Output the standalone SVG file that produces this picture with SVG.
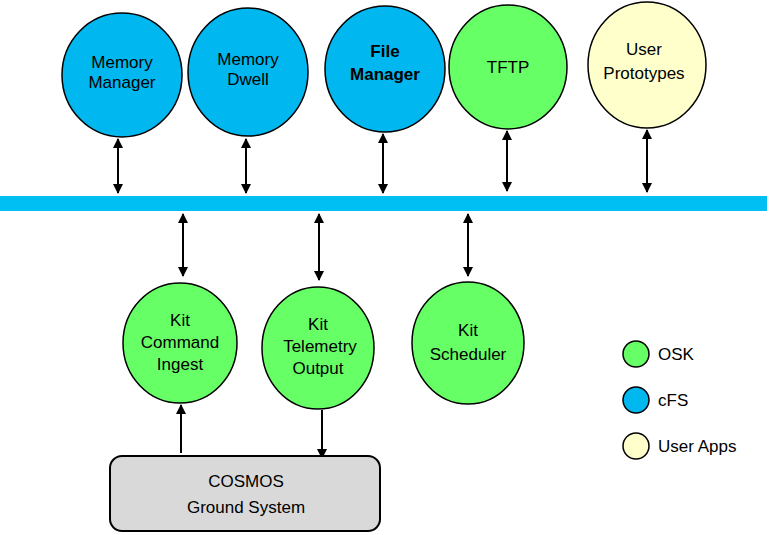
<svg xmlns="http://www.w3.org/2000/svg" width="774" height="535" viewBox="0 0 774 535">
<defs>
<marker id="ah" viewBox="0 0 10 10" refX="9" refY="5" markerWidth="5" markerHeight="5" orient="auto-start-reverse"><path d="M0,0 L10,5 L0,10 z" fill="#000"/></marker>
<style>
.c{stroke:#000;stroke-width:1.5}
.b{fill:#00B7EF}.g{fill:#66FF66}.y{fill:#FFFFCC}
text{font-family:"Liberation Sans",Arial,sans-serif;font-size:17px;text-anchor:middle;fill:#000}
.l{text-anchor:start}
.a{stroke:#000;stroke-width:2;marker-end:url(#ah)}
.d{stroke:#000;stroke-width:2;marker-start:url(#ah);marker-end:url(#ah)}
</style>
</defs>
<rect x="0" y="196" width="767" height="15" fill="#00BFF3"/>
<g id="connectors">
<line class="d" x1="118" y1="139" x2="118" y2="193"/>
<line class="d" x1="246" y1="139" x2="246" y2="193"/>
<line class="d" x1="383" y1="134" x2="383" y2="193"/>
<line class="d" x1="507" y1="131" x2="507" y2="191"/>
<line class="d" x1="647" y1="130" x2="647" y2="192"/>
<line class="d" x1="183" y1="214" x2="183" y2="276"/>
<line class="d" x1="319" y1="214" x2="319" y2="280"/>
<line class="d" x1="468" y1="214" x2="468" y2="276"/>
<line class="a" x1="181" y1="453" x2="181" y2="405"/>
<line class="a" x1="322" y1="410" x2="322" y2="458"/>
</g>
<g id="mm"><ellipse class="c b" cx="122" cy="75" rx="60" ry="62"/><text x="122" y="68">Memory</text><text x="122" y="88">Manager</text></g>
<g id="md"><ellipse class="c b" cx="248" cy="72" rx="60" ry="64"/><text x="248" y="65">Memory</text><text x="248" y="85">Dwell</text></g>
<g id="fm"><ellipse class="c b" cx="385" cy="69" rx="60" ry="63"/><text x="385" y="57" font-weight="bold">File</text><text x="385" y="80" font-weight="bold">Manager</text></g>
<g id="tftp"><ellipse class="c g" cx="508" cy="67" rx="59" ry="62"/><text x="508" y="73">TFTP</text></g>
<g id="up"><ellipse class="c y" cx="647" cy="65" rx="59" ry="63"/><text x="644" y="55">User</text><text x="644" y="79">Prototypes</text></g>
<g id="kci"><ellipse class="c g" cx="180" cy="343" rx="57" ry="60"/><text x="180" y="326">Kit</text><text x="180" y="348">Command</text><text x="180" y="370">Ingest</text></g>
<g id="kto"><ellipse class="c g" cx="318" cy="348" rx="56" ry="61"/><text x="318" y="330">Kit</text><text x="320" y="352">Telemetry</text><text x="318" y="374">Output</text></g>
<g id="ks"><ellipse class="c g" cx="468" cy="343" rx="56" ry="61"/><text x="468" y="336">Kit</text><text x="468" y="360">Scheduler</text></g>
<g id="cosmos"><rect x="110" y="456" width="270" height="75" rx="12" fill="#D9D9D9" stroke="#000" stroke-width="2"/><text x="246" y="487">COSMOS</text><text x="246" y="513">Ground System</text></g>
<g id="legend">
<circle class="c g" cx="636" cy="354" r="13"/><text class="l" x="658" y="360">OSK</text>
<circle class="c b" cx="636" cy="400" r="13"/><text class="l" x="658" y="406">cFS</text>
<circle class="c y" cx="636" cy="446" r="13"/><text class="l" x="658" y="452">User Apps</text>
</g>
</svg>
